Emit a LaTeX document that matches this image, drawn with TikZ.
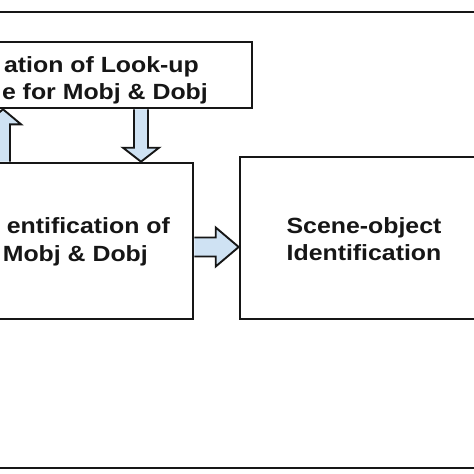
\documentclass[tikz,border=0pt]{standalone}
\usepackage{fontspec}
\newfontfamily\lab{Liberation Sans}[FakeStretch=1.13]
\usetikzlibrary{calc}
\definecolor{arrowfill}{RGB}{207,226,243}
\definecolor{linec}{RGB}{22,22,22}
\tikzset{
  box/.style={draw=linec, line width=2.6pt, rectangle, inner sep=0pt},
  lbl/.style={inner sep=0pt, font=\lab\bfseries\fontsize{22}{26}\selectfont, text=linec},
  blockarrow/.style={draw=linec, line width=1.9pt, fill=arrowfill, line join=miter},
}
\begin{document}
\begin{tikzpicture}[x=1pt,y=-1pt]
\useasboundingbox (0,0) rectangle (474,474);
\fill[white] (0,0) rectangle (474,474);
% outer frame
\node[box, minimum width=520pt, minimum height=456pt] (frame) at (237,240) {};
% boxes
\node[box, minimum width=312pt, minimum height=66pt] (top) at (96,75) {};
\node[box, minimum width=253pt, minimum height=156pt] (left) at (66.5,241) {};
\node[box, minimum width=300pt, minimum height=162pt] (right) at (390,238) {};
% texts
\node[lbl, anchor=base east] (t1) at (199,72) {ation of Look-up};
\node[lbl, anchor=base east] (t2) at (208,99) {e for Mobj \& Dobj};
\node[lbl, anchor=base east] (l1) at (170,233) {entification of};
\node[lbl, anchor=base east] (l2) at (148,261) {Mobj \& Dobj};
\node[lbl, anchor=base] (r1) at (364,233) {Scene-object};
\node[lbl, anchor=base] (r2) at (364,260) {Identification};
% helper coordinates
\coordinate (xdown) at (141,0);
\coordinate (xup) at (3,0);
\coordinate (yright) at (0,247);
\coordinate (d1) at (top.south -| xdown);
\coordinate (d2) at (left.north -| xdown);
\coordinate (u1) at (left.north -| xup);
\coordinate (u2) at (top.south -| xup);
\coordinate (r1s) at (left.east |- yright);
\coordinate (r2s) at (right.west |- yright);
% down arrow
\draw[blockarrow] let \p1=(d1), \p2=(d2) in
  (\x1-7pt,\y1) -- (\x1-7pt,\y2+14pt) -- (\x1-18pt,\y2+14pt) -- (\x2,\y2)
  -- (\x1+18pt,\y2+14pt) -- (\x1+7pt,\y2+14pt) -- (\x1+7pt,\y1);
% up arrow
\draw[blockarrow] let \p1=(u1), \p2=(u2) in
  (\x1-7pt,\y1) -- (\x1-7pt,\y2-15pt) -- (\x1-18pt,\y2-15pt) -- (\x2,\y2)
  -- (\x1+18pt,\y2-15pt) -- (\x1+7pt,\y2-15pt) -- (\x1+7pt,\y1);
% right arrow
\draw[blockarrow] let \p1=(r1s), \p2=(r2s) in
  (\x1,\y1+9.5pt) -- (\x2-23pt,\y1+9.5pt) -- (\x2-23pt,\y1+19.5pt) -- (\x2,\y2)
  -- (\x2-23pt,\y1-19.5pt) -- (\x2-23pt,\y1-9.5pt) -- (\x1,\y1-9.5pt);
\end{tikzpicture}
\end{document}
